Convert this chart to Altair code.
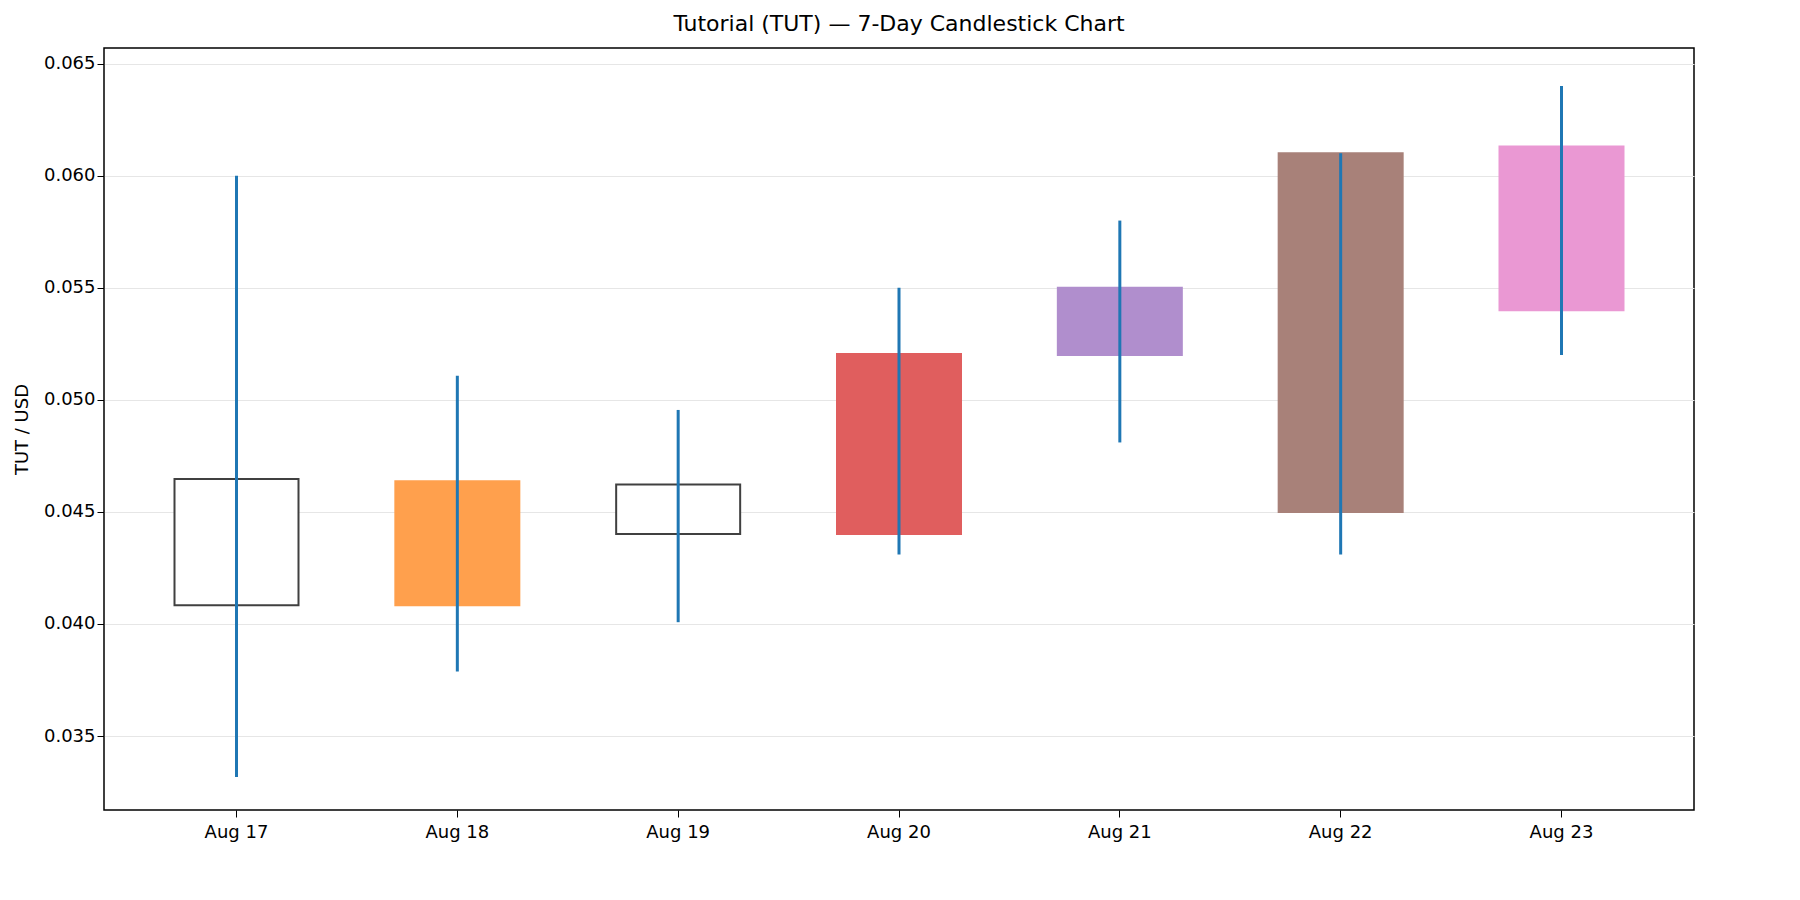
import pandas as pd
import altair as alt

# Values
days = ["Aug 17", "Aug 18", "Aug 19", "Aug 20", "Aug 21", "Aug 22", "Aug 23"]
box_low = [0.04084, 0.04084, 0.04402, 0.04402, 0.0520, 0.0450, 0.0540]
box_high = [0.04647, 0.04637, 0.04622, 0.05205, 0.0550, 0.0610, 0.0613]
wick_low = [0.03317, 0.03788, 0.04008, 0.0431, 0.0481, 0.0431, 0.0520]
wick_high = [0.0600, 0.05108, 0.04955, 0.0550, 0.0580, 0.0610, 0.0640]
fills = ["#ffffff", "#ffa04d", "#ffffff", "#e05e5e", "#b08ecd", "#a88179", "#ea98d3"]
strokes = ["#404040", "#ffa04d", "#404040", "#e05e5e", "#b08ecd", "#a88179", "#ea98d3"]

df = pd.DataFrame({
    "day": days,
    "box_low": box_low,
    "box_high": box_high,
    "wick_low": wick_low,
    "wick_high": wick_high,
    "fill": fills,
    "stroke": strokes,
})

font = "DejaVu Sans"

x = alt.X(
    "day:N",
    sort=days,
    title=None,
    scale=alt.Scale(paddingInner=0.0, paddingOuter=0.1),
    axis=alt.Axis(labelAngle=0, labelFontSize=18, labelColor="black", tickColor="black",
                  tickSize=7, labelPadding=6, domain=False, grid=False),
)

base = alt.Chart(df)

boxes = base.mark_bar(strokeWidth=2, width=124).encode(
    x=x,
    y=alt.Y(
        "box_low:Q",
        title="TUT / USD",
        scale=alt.Scale(domain=[0.0317, 0.0657], nice=False, zero=False),
        axis=alt.Axis(values=[0.035, 0.040, 0.045, 0.050, 0.055, 0.060, 0.065], format=".3f",
                      labelFontSize=18, titleFontSize=18, titleFontWeight="normal",
                      labelColor="black", titleColor="black", tickColor="black", tickSize=7,
                      gridColor="#e6e6e6", domain=False, titlePadding=12),
    ),
    y2="box_high:Q",
    fill=alt.Fill("fill:N", scale=None),
    stroke=alt.Stroke("stroke:N", scale=None),
)

wicks = base.mark_rule(strokeWidth=3, color="#1f77b4").encode(
    x=x,
    y="wick_low:Q",
    y2="wick_high:Q",
)

chart = (
    alt.layer(boxes, wicks)
    .properties(
        width=1590,
        height=762,
        title=alt.Title("Tutorial (TUT) — 7-Day Candlestick Chart", fontSize=22,
                        fontWeight="normal", font=font, color="black", offset=12),
    )
    .configure(font=font)
    .configure_view(stroke="black", strokeWidth=1.5)
)

chart.save("out.html", embed_options={"renderer": "svg", "actions": False})
